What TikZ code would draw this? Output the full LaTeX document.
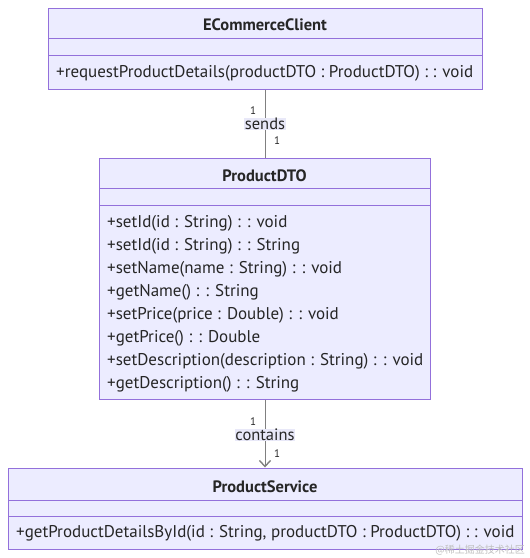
\documentclass[tikz,border=0pt]{standalone}
\usepackage{fontspec}
\setmainfont{PT Sans}
\newfontfamily\cjkfont{Noto Sans CJK SC}
\usetikzlibrary{arrows.meta}
\definecolor{boxfill}{HTML}{ECECFF}
\definecolor{boxdraw}{HTML}{9370DB}
\definecolor{lbl}{HTML}{E8E8F8}
\definecolor{conn}{HTML}{808080}
\tikzset{
  box/.style={draw=boxdraw, fill=boxfill, line width=1pt, inner sep=0pt},
  divider/.style={draw=boxdraw, line width=1pt},
  title/.style={font=\fontsize{16.5}{18}\selectfont\bfseries, inner sep=0pt, text=black!85},
  meth/.style={font=\fontsize{17}{19}\selectfont, inner sep=0pt, anchor=west, text=black!85},
  conline/.style={draw=conn, line width=1pt},
  elabel/.style={fill=lbl, font=\fontsize{16.5}{18}\selectfont, inner sep=0.5pt, text=black!85},
  mult/.style={font=\fontsize{11}{12}\selectfont, inner sep=0pt, text=black!85}
}
\begin{document}
\begin{tikzpicture}[x=1pt,y=-1pt]
\useasboundingbox (0,0) rectangle (530,558);
% EcommerceClient
\node[box, minimum width=434pt, minimum height=81pt] (c1) at (265,48.5) {};
\draw[divider] (48,38.5) -- (482,38.5);
\draw[divider] (48,55) -- (482,55);
\node[title] (c1t) at (265,25) {ECommerceClient};
\node[meth] (c1m1) at (56,73) {+requestProductDetails(productDTO : ProductDTO) : : void};
% ProductDTO
\node[box, minimum width=331pt, minimum height=241pt] (c2) at (264.5,278.5) {};
\draw[divider] (99,188.5) -- (430,188.5);
\draw[divider] (99,205) -- (430,205);
\node[title] (c2t) at (264.5,176) {ProductDTO};
\node[meth] (m1) at (107,223) {+setId(id : String) : : void};
\node[meth] (m2) at (107,246) {+setId(id : String) : : String};
\node[meth] (m3) at (107,269) {+setName(name : String) : : void};
\node[meth] (m4) at (107,292) {+getName() : : String};
\node[meth] (m5) at (107,315) {+setPrice(price : Double) : : void};
\node[meth] (m6) at (107,338) {+getPrice() : : Double};
\node[meth] (m7) at (107,361) {+setDescription(description : String) : : void};
\node[meth] (m8) at (107,384) {+getDescription() : : String};
% ProductService
\node[box, minimum width=514pt, minimum height=81pt] (c3) at (265,508.5) {};
\draw[divider] (8,500) -- (522,500);
\draw[divider] (8,516) -- (522,516);
\node[title] (c3t) at (265,487) {ProductService};
\node[meth] (c3m1) at (16,533) {+getProductDetailsById(id : String, productDTO : ProductDTO) : : void};
% connectors
\draw[conline] (c1.south -| 265,0) -- (c2.north -| 265,0);
\node[elabel] (l1) at (265,124) {sends};
\node[mult] (l1a) at (253,111) {1};
\node[mult] (l1b) at (277,141) {1};
\draw[conline, -{Straight Barb[length=6pt,width=11pt,line width=1.4pt]}] (c2.south -| 265,0) -- (c3.north -| 265,0);
\node[elabel] (l2) at (265,435) {contains};
\node[mult] (l2a) at (253,422) {1};
\node[mult] (l2b) at (277,454) {1};
% watermark
\node[font=\cjkfont\fontsize{10}{12}\selectfont, text=black!25, anchor=east, inner sep=0pt] (wm) at (525,550) {@稀土掘金技术社区};
\end{tikzpicture}
\end{document}
